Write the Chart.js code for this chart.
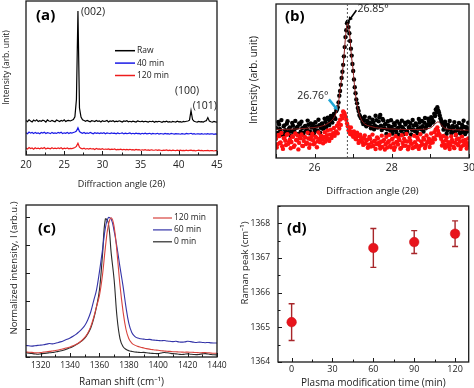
<!DOCTYPE html>
<html>
<head>
<meta charset="utf-8">
<script src="https://cdn.jsdelivr.net/npm/chart.js@4.4.1/dist/chart.umd.min.js"></script>
<style>
  html, body { margin: 0; padding: 0; background: #fff; }
  #wrap { position: relative; width: 474px; height: 388px; overflow: hidden; }
  #wrap canvas { position: absolute; left: 0; top: 0; }
</style>
</head>
<body>
<div id="wrap">
  <canvas id="chartA" width="474" height="388"></canvas>
  <canvas id="chartB" width="474" height="388"></canvas>
  <canvas id="chartC" width="474" height="388"></canvas>
  <canvas id="chartD" width="474" height="388"></canvas>
</div>
<script>
// ---------- (a) XRD survey, 20-45 deg, sampled every 0.2 deg ----------
const aLabels = ['Raw', '40 min', '120 min'];
const aStart = 20, aStep = 0.2;
const aRaw = [
  22.4, 21.6, 22.9, 22.1, 21.5, 22.7, 22.0, 22.8, 21.7, 22.3,
  21.9, 22.6, 22.2, 21.4, 22.8, 22.1, 21.8, 22.5, 22.0, 21.6,
  22.7, 22.2, 21.7, 22.4, 22.0, 22.9, 21.8, 22.3, 22.5, 22.1,
  22.6, 23.0, 24.8, 36.0, 93.5, 30.5, 24.6, 22.9, 22.4, 21.9,
  22.5, 22.0, 21.6, 22.3, 22.1, 21.7, 22.4, 21.9, 22.2, 21.5,
  22.3, 21.8, 22.0, 22.4, 21.5, 22.1, 21.9, 22.3, 21.6, 22.0,
  21.7, 22.2, 21.8, 21.4, 22.1, 21.9, 22.3, 21.6, 21.9, 21.5,
  22.0, 21.7, 21.4, 22.1, 21.8, 21.6, 22.0, 21.5, 21.9, 21.7,
  21.4, 21.9, 21.6, 22.0, 21.3, 21.8, 21.5, 21.9, 21.6, 21.2,
  21.8, 21.5, 21.9, 21.4, 21.7, 21.3, 21.8, 21.6, 21.4, 21.9,
  21.5, 21.7, 21.3, 21.8, 21.6, 21.9, 22.1, 22.6, 28.8, 23.0,
  21.9, 21.6, 21.4, 21.8, 21.5, 21.7, 21.4, 21.9, 22.3, 24.3,
  22.0, 21.6, 21.3, 21.8, 21.5, 21.4
];
const aMin40 = [
  14.5, 13.8, 14.9, 14.2, 14.6, 13.9, 14.7, 14.1, 14.4, 13.8,
  14.6, 14.2, 14.8, 14.0, 14.5, 14.3, 13.9, 14.7, 14.1, 14.4,
  14.0, 14.6, 14.2, 14.8, 13.9, 14.4, 14.1, 14.7, 14.0, 14.5,
  14.2, 14.6, 14.9, 15.6, 17.7, 15.2, 14.5, 14.1, 14.6, 13.9,
  14.4, 14.0, 14.6, 14.2, 13.8, 14.5, 14.1, 14.4, 13.9, 14.3,
  14.0, 14.5, 13.8, 14.3, 14.1, 13.9, 14.4, 14.0, 14.2, 13.8,
  14.3, 13.9, 14.1, 14.4, 13.7, 14.2, 13.9, 14.0, 14.3, 13.8,
  14.1, 13.7, 14.2, 13.9, 14.0, 13.6, 14.1, 13.8, 14.2, 13.7,
  13.9, 14.1, 13.6, 14.0, 13.8, 13.7, 14.1, 13.6, 13.9, 13.8,
  13.6, 14.0, 13.7, 13.9, 13.5, 14.0, 13.8, 13.6, 13.9, 13.7,
  13.8, 13.5, 13.9, 13.7, 13.6, 14.0, 13.7, 13.8, 14.1, 13.6,
  13.9, 13.5, 13.8, 13.7, 13.6, 13.9, 13.5, 13.8, 13.6, 13.9,
  13.5, 13.7, 13.8, 13.4, 13.7, 13.6
];
const aMin120 = [
  4.5, 3.9, 4.8, 4.2, 4.6, 3.8, 4.7, 4.1, 4.4, 4.0,
  4.6, 4.2, 4.8, 3.9, 4.5, 4.3, 4.0, 4.7, 4.1, 4.4,
  4.1, 4.6, 4.2, 4.7, 3.9, 4.4, 4.1, 4.6, 4.0, 4.3,
  4.2, 4.5, 4.9, 5.6, 7.6, 5.1, 4.3, 4.0, 4.4, 3.8,
  4.2, 3.8, 4.3, 3.9, 4.1, 3.6, 4.2, 3.8, 4.0, 3.7,
  4.1, 3.6, 3.9, 3.7, 4.0, 3.5, 3.8, 3.6, 3.9, 3.4,
  3.7, 3.5, 3.8, 3.4, 3.7, 3.3, 3.6, 3.4, 3.7, 3.3,
  3.5, 3.2, 3.6, 3.3, 3.5, 3.1, 3.4, 3.2, 3.5, 3.1,
  3.3, 3.0, 3.4, 3.2, 3.1, 3.4, 3.0, 3.3, 3.1, 2.9,
  3.2, 3.0, 3.3, 2.9, 3.1, 2.8, 3.2, 3.0, 2.9, 3.2,
  2.9, 3.1, 2.8, 3.0, 2.9, 3.2, 2.8, 3.0, 3.1, 2.8,
  3.0, 2.7, 2.9, 3.1, 2.8, 3.0, 2.7, 2.9, 2.8, 3.0,
  2.7, 2.9, 2.8, 2.6, 2.9, 2.8
];
const aTicks = [20, 25, 30, 35, 40, 45];
const aPeaks = [['(002)', 26.8, 93.5], ['(100)', 41.6, 28.8], ['(101)', 43.8, 24.3]];

// ---------- (b) zoom on (002), 25-30 deg ----------
// two interleaved scans: first starts at 25.00, second at 25.02, both every 0.04 deg
const bStart = 25, bStart2 = 25.02, bStep = 0.04;
const bRaw = [
  19.5, 16.2, 21.8, 17.4, 15.9, 20.6, 18.1, 22.3, 16.7, 19.9,
  17.2, 21.0, 18.6, 15.8, 20.3, 22.5, 17.0, 19.4, 16.5, 20.8,
  18.9, 21.6, 17.3, 19.8, 22.0, 18.2, 20.5, 17.7, 21.3, 19.6,
  22.4, 20.1, 23.5, 22.0, 25.1, 23.9, 24.8, 27.0, 26.2, 30.5,
  33.0, 40.5, 47.5, 56.0, 66.0, 78.5, 87.5, 85.0, 76.0, 66.5,
  56.5, 46.0, 38.0, 32.5, 28.0, 26.0, 23.5, 24.5, 21.8, 24.1,
  21.5, 22.8, 20.4, 23.0, 21.2, 24.6, 19.8, 26.5, 20.9, 25.3,
  19.4, 22.1, 18.6, 21.0, 17.9, 20.2, 18.0, 21.4, 16.9, 19.5,
  22.3, 17.6, 20.0, 18.4, 21.7, 17.1, 19.7, 22.6, 18.3, 20.9,
  17.5, 21.2, 19.0, 23.1, 18.7, 20.6, 22.9, 19.3, 21.8, 24.0,
  22.2, 25.4, 23.7, 27.3, 29.5, 31.0, 27.8, 24.2, 21.5, 19.6,
  21.9, 17.8, 20.3, 18.5, 16.7, 19.9, 17.2, 20.7, 18.1, 16.4,
  19.3, 17.0, 20.1, 16.8, 18.6, 17.5
];
const bRaw2 = [
  15.1, 23.4, 18.8, 24.6, 14.7, 21.2, 16.3, 23.9, 19.2, 14.4,
  22.8, 16.9, 24.1, 19.7, 15.5, 21.9, 23.6, 15.2, 20.4, 17.8,
  24.3, 16.1, 22.5, 20.8, 15.9, 23.2, 17.6, 24.8, 16.4, 22.1,
  18.9, 25.6, 19.8, 26.1, 21.4, 27.3, 23.0, 28.6, 25.4, 31.5,
  36.0, 43.5, 52.0, 60.5, 72.0, 83.0, 88.5, 81.0, 71.0, 61.0,
  51.0, 42.0, 35.5, 30.5, 27.0, 25.5, 22.0, 26.8, 20.6, 23.4,
  26.2, 19.3, 24.9, 18.7, 27.4, 20.1, 23.8, 28.0, 18.2, 24.4,
  21.7, 15.6, 23.9, 19.2, 24.5, 15.8, 22.6, 18.5, 23.7, 14.9,
  20.5, 24.2, 15.4, 22.9, 16.6, 23.5, 20.2, 15.3, 24.7, 18.0,
  22.4, 16.2, 25.3, 19.9, 24.1, 17.1, 26.0, 20.7, 25.6, 21.3,
  26.5, 23.0, 28.8, 31.5, 33.0, 29.7, 25.8, 23.1, 18.4, 23.6,
  15.7, 21.4, 24.0, 16.2, 20.8, 23.3, 15.0, 19.4, 22.7, 15.9,
  21.6, 24.2, 15.6, 20.0, 22.9
];
const bMin120 = [
  12.5, 8.9, 14.2, 10.1, 7.6, 13.0, 11.2, 15.1, 9.3, 12.0,
  10.4, 13.8, 8.2, 11.7, 14.6, 9.8, 12.9, 7.9, 11.1, 13.4,
  10.0, 12.7, 8.8, 14.0, 11.5, 9.6, 13.2, 10.8, 12.4, 14.5,
  11.9, 13.6, 10.7, 14.8, 12.3, 15.2, 13.0, 16.1, 14.4, 17.3,
  16.0, 19.2, 21.5, 25.8, 29.6, 27.0, 22.4, 18.1, 15.6, 16.9,
  13.8, 15.0, 12.2, 14.3, 11.0, 13.5, 10.2, 12.8, 9.4, 11.9,
  8.6, 12.4, 10.0, 7.8, 11.3, 9.1, 12.7, 8.3, 10.6, 7.2,
  11.8, 9.0, 6.8, 10.9, 8.1, 12.1, 9.5, 7.0, 10.4, 8.7,
  11.6, 6.5, 9.8, 12.3, 8.0, 10.7, 7.4, 11.2, 9.2, 6.9,
  10.3, 8.5, 12.0, 7.7, 10.8, 9.0, 11.9, 8.4, 10.1, 12.6,
  9.7, 11.4, 13.0, 12.2, 14.8, 17.5, 15.1, 12.4, 10.6, 8.8,
  11.5, 7.6, 10.2, 8.4, 11.7, 7.1, 9.9, 12.2, 8.2, 10.5,
  7.5, 11.0, 8.6, 10.3, 7.9, 9.6
];
const bMin120b = [
  6.8, 14.9, 9.7, 16.2, 5.9, 13.1, 8.4, 15.5, 10.6, 6.3,
  14.1, 7.2, 16.0, 11.5, 5.6, 12.8, 15.3, 7.8, 13.7, 9.1,
  16.4, 6.6, 12.1, 15.7, 8.9, 13.9, 7.0, 16.6, 10.3, 14.2,
  9.5, 16.8, 12.4, 17.9, 11.1, 18.4, 14.6, 19.5, 16.8, 20.9,
  22.8, 24.9, 27.5, 30.2, 28.6, 24.8, 20.6, 17.5, 19.8, 14.7,
  17.2, 12.5, 16.4, 9.8, 15.1, 12.0, 8.5, 14.7, 11.3, 6.7,
  13.6, 7.5, 15.2, 10.9, 5.8, 13.4, 9.8, 6.2, 14.5, 11.0,
  5.5, 13.8, 10.2, 15.0, 6.9, 12.6, 5.4, 14.2, 9.6, 12.9,
  6.0, 14.8, 7.9, 11.0, 15.6, 5.7, 13.1, 9.4, 6.4, 14.4,
  7.3, 13.5, 5.9, 15.4, 8.6, 13.0, 6.5, 14.6, 10.7, 7.1,
  15.9, 10.0, 16.8, 18.6, 19.9, 15.8, 13.9, 8.1, 14.3, 6.6,
  13.2, 9.3, 5.8, 14.0, 10.5, 6.4, 15.1, 9.0, 12.6, 5.9,
  13.9, 8.3, 11.8, 6.1, 12.7
];
const bFitX = [25.0, 25.5, 26.0, 26.2, 26.35, 26.45, 26.52, 26.58, 26.63, 26.68,
  26.72, 26.75, 26.78, 26.81, 26.85, 26.89, 26.92, 26.95, 26.99, 27.03,
  27.08, 27.15, 27.22, 27.3, 27.45, 27.7, 28.2, 28.8, 29.0, 29.1,
  29.2, 29.3, 29.4, 29.7, 30.0];
const bFitY = [18.5, 18.8, 19.8, 20.8, 22.5, 24.5, 27.0, 31.0, 38.0, 48.0,
  55.0, 63.0, 72.0, 81.0, 87.5, 84.0, 77.0, 67.0, 59.0, 48.0,
  37.5, 29.0, 24.5, 22.0, 20.5, 19.3, 18.6, 18.6, 19.5, 21.5,
  23.5, 21.0, 19.0, 18.3, 18.0];
const bTicks = [26, 28, 30];
const bRawPeak = [26.85, 87.5];
const bMin120Peak = [26.76, 29.6];

// ---------- (c) normalized Raman D band, sampled every 2 cm-1 ----------
const cLabels = ['120 min', '60 min', '0 min'];
const cStart = 1310, cStep = 2;
const cMin120 = [
  0.035, 0.034, 0.033, 0.030, 0.030, 0.032, 0.035, 0.038, 0.040, 0.043,
  0.046, 0.050, 0.055, 0.060, 0.066, 0.072, 0.080, 0.090, 0.102, 0.118,
  0.140, 0.170, 0.215, 0.280, 0.360, 0.440, 0.580, 0.780, 0.940, 0.995,
  0.930, 0.740, 0.510, 0.330, 0.200, 0.130, 0.100, 0.085, 0.076, 0.070,
  0.065, 0.060, 0.056, 0.053, 0.050, 0.048, 0.045, 0.043, 0.041, 0.040,
  0.038, 0.037, 0.036, 0.035, 0.034, 0.035, 0.034, 0.033, 0.032, 0.030,
  0.031, 0.032, 0.030, 0.028, 0.027, 0.026
];
const cMin60 = [
  0.082, 0.080, 0.078, 0.080, 0.083, 0.085, 0.088, 0.092, 0.096, 0.094,
  0.098, 0.104, 0.110, 0.118, 0.126, 0.136, 0.148, 0.162, 0.180, 0.200,
  0.225, 0.265, 0.320, 0.400, 0.480, 0.610, 0.760, 0.920, 0.995, 0.985,
  0.900, 0.780, 0.640, 0.510, 0.360, 0.240, 0.175, 0.148, 0.135, 0.130,
  0.128, 0.125, 0.126, 0.122, 0.120, 0.118, 0.116, 0.118, 0.114, 0.112,
  0.110, 0.112, 0.108, 0.106, 0.108, 0.112, 0.110, 0.106, 0.104, 0.106,
  0.104, 0.102, 0.104, 0.101, 0.100, 0.100
];
const cMin0 = [
  0.030, 0.028, 0.025, 0.022, 0.020, 0.022, 0.025, 0.028, 0.030, 0.032,
  0.036, 0.040, 0.045, 0.050, 0.058, 0.066, 0.075, 0.088, 0.100, 0.115,
  0.135, 0.165, 0.205, 0.270, 0.360, 0.480, 0.720, 0.985, 0.960, 0.740,
  0.550, 0.280, 0.130, 0.075, 0.055, 0.045, 0.040, 0.036, 0.034, 0.032,
  0.033, 0.030, 0.028, 0.026, 0.025, 0.024, 0.028, 0.032, 0.030, 0.027,
  0.024, 0.022, 0.020, 0.018, 0.020, 0.022, 0.020, 0.018, 0.017, 0.019,
  0.022, 0.024, 0.021, 0.018, 0.016, 0.015
];
const cTicks = [1320, 1340, 1360, 1380, 1400, 1420, 1440];
const cYTicks = [0, 0.2, 0.4, 0.6, 0.8, 1.0];

// ---------- (d) Raman peak position vs plasma time ----------
const dTime = [0, 60, 90, 120];
const dPeak = [1365.15, 1367.29, 1367.46, 1367.70];
const dErr = [0.53, 0.56, 0.33, 0.37];
const dXTicks = [0, 30, 60, 90, 120];
const dYTicks = [1364, 1365, 1366, 1367, 1368];

// ---------- helpers ----------
const FONT = '"Open Sans", "Noto Sans", sans-serif';
Chart.defaults.font.family = FONT;
Chart.defaults.color = '#222';

function series(start, step, values) {
  return values.map((v, i) => ({ x: +(start + i * step).toFixed(3), y: v }));
}
function fixX(h) {
  return s => { s.height = h; s.paddingLeft = 0; s.paddingRight = 0; };
}
function fixY(w) {
  return s => { s.width = w; s.paddingTop = 0; s.paddingBottom = 0; };
}
function setTicks(list) {
  return s => { s.ticks = list.map(v => ({ value: v })); };
}
const plain = v => String(v);   // no thousands separator
function text(ctx, str, x, y, size, opts = {}) {
  ctx.save();
  ctx.font = (opts.bold ? 'bold ' : '') + size + 'px ' + FONT;
  ctx.fillStyle = opts.color || '#222';
  ctx.textAlign = opts.align || 'left';
  ctx.textBaseline = 'middle';
  ctx.translate(x, y);
  if (opts.rotate) ctx.rotate(opts.rotate);
  ctx.fillText(str, 0, 0);
  ctx.restore();
}
function arrow(ctx, x1, y1, x2, y2, color, width, head) {
  const ang = Math.atan2(y2 - y1, x2 - x1);
  ctx.save();
  ctx.strokeStyle = color; ctx.fillStyle = color; ctx.lineWidth = width;
  ctx.beginPath();
  ctx.moveTo(x1, y1);
  ctx.lineTo(x2 - Math.cos(ang) * head * 0.7, y2 - Math.sin(ang) * head * 0.7);
  ctx.stroke();
  ctx.beginPath();
  ctx.moveTo(x2, y2);
  ctx.lineTo(x2 - head * Math.cos(ang - 0.5), y2 - head * Math.sin(ang - 0.5));
  ctx.lineTo(x2 - head * Math.cos(ang + 0.5), y2 - head * Math.sin(ang + 0.5));
  ctx.closePath();
  ctx.fill();
  ctx.restore();
}

// box around the plot plus inward tick marks
const frameTicks = {
  id: 'frameTicks',
  afterDatasetsDraw(chart, args, opts) {
    const { ctx, chartArea: a, scales } = chart;
    ctx.save();
    ctx.strokeStyle = '#1a1a1a';
    ctx.lineWidth = 1;
    const mark = (s, v, len) => {
      const p = Math.round(s.getPixelForValue(v)) + 0.5;
      ctx.beginPath();
      if (s.isHorizontal()) { ctx.moveTo(p, a.bottom); ctx.lineTo(p, a.bottom - len); }
      else { ctx.moveTo(a.left, p); ctx.lineTo(a.left + len, p); }
      ctx.stroke();
    };
    ['x', 'y'].forEach(id => {
      const o = opts[id];
      if (!o) return;
      const s = scales[id];
      if (o.minor) {
        for (let v = Math.ceil(s.min / o.minor) * o.minor; v <= s.max + 1e-9; v += o.minor) mark(s, v, o.minorLen || 2.5);
      }
      s.ticks.forEach(t => mark(s, t.value, o.major || 4));
    });
    ctx.lineWidth = 1.3;
    ctx.strokeRect(a.left, a.top, a.right - a.left, a.bottom - a.top);
    ctx.restore();
  }
};
Chart.register(frameTicks);

const baseOpts = {
  responsive: false,
  animation: false,
  events: []
};

// ---------- (a) ----------
const aColors = ['#000000', '#1a1ae6', '#ee1c1c'];
new Chart(document.getElementById('chartA'), {
  type: 'line',
  data: {
    datasets: [aRaw, aMin40, aMin120].map((vals, i) => ({
      label: aLabels[i],
      data: series(aStart, aStep, vals),
      borderColor: aColors[i],
      borderWidth: 1.2,
      pointRadius: 0,
      tension: 0
    }))
  },
  options: {
    ...baseOpts,
    layout: { padding: { left: 0, top: 1, right: 257, bottom: 193 } },
    plugins: {
      legend: { display: false }, tooltip: { enabled: false },
      frameTicks: { x: { major: 4, minor: 2.5, minorLen: 2.5 } }
    },
    scales: {
      x: {
        type: 'linear', min: 20, max: 45,
        afterBuildTicks: setTicks(aTicks), afterFit: fixX(40),
        grid: { display: false, drawTicks: false }, border: { display: false },
        ticks: { padding: 4, font: { size: 10 }, callback: plain },
        title: { display: true, text: 'Diffraction angle (2θ)', font: { size: 9 }, padding: { top: 0, bottom: 4.9 } }
      },
      y: {
        min: 0, max: 100, afterFit: fixY(26),
        grid: { display: false, drawTicks: false }, border: { display: false },
        ticks: { display: false }
      }
    }
  },
  plugins: [{
    id: 'aDecor',
    afterDraw(chart) {
      const { ctx, chartArea: a, scales: { x, y } } = chart;
      text(ctx, 'Intensity (arb. unit)', 6.5, 67.5, 8.5, { align: 'center', rotate: -Math.PI / 2 });
      text(ctx, '(a)', a.left + 10, a.top + 15, 15, { bold: true, color: '#000' });
      const off = [[3, 1, 'left'], [-4, -20, 'center'], [-3, -12, 'center']];
      aPeaks.forEach((p, i) => {
        text(ctx, p[0], x.getPixelForValue(p[1]) + off[i][0], y.getPixelForValue(p[2]) + off[i][1], 10.5, { align: off[i][2] });
      });
      chart.data.datasets.forEach((ds, i) => {
        const ly = a.top + 49.7 + i * 12.4;
        ctx.save();
        ctx.strokeStyle = ds.borderColor; ctx.lineWidth = 1.5;
        ctx.beginPath(); ctx.moveTo(a.left + 89, ly); ctx.lineTo(a.left + 109, ly); ctx.stroke();
        ctx.restore();
        text(ctx, ds.label, a.left + 111, ly, 8.5);
      });
    }
  }]
});

// ---------- (b) ----------
const dot = (vals, start, color) => ({
  data: series(start, bStep, vals), backgroundColor: color, borderWidth: 0, pointRadius: 2.2
});
new Chart(document.getElementById('chartB'), {
  type: 'scatter',
  data: {
    datasets: [
      { label: 'fit', type: 'line', data: bFitX.map((v, i) => ({ x: v, y: bFitY[i] })), borderColor: '#8b1a1a', borderWidth: 1, pointRadius: 0, tension: 0.35 },
      { label: '120 min', ...dot(bMin120, bStart, '#ff1010') },
      { label: '120 min', ...dot(bMin120b, bStart2, '#ff1010') },
      { label: 'Raw', ...dot(bRaw, bStart, '#000000') },
      { label: 'Raw', ...dot(bRaw2, bStart2, '#000000') }
    ]
  },
  options: {
    ...baseOpts,
    layout: { padding: { left: 236, top: 3, right: 5, bottom: 190 } },
    plugins: {
      legend: { display: false }, tooltip: { enabled: false },
      frameTicks: { x: { major: 4, minor: 1, minorLen: 4 } }
    },
    scales: {
      x: {
        type: 'linear', min: 25, max: 30,
        afterBuildTicks: setTicks(bTicks), afterFit: fixX(40),
        grid: { display: false, drawTicks: false }, border: { display: false },
        ticks: { padding: 4, font: { size: 10.5 }, callback: plain },
        title: { display: true, text: 'Diffraction angle (2θ)', font: { size: 9.5 }, padding: { top: 0, bottom: 1.5 } }
      },
      y: {
        min: 0, max: 100, afterFit: fixY(40),
        grid: { display: false, drawTicks: false }, border: { display: false },
        ticks: { display: false }
      }
    }
  },
  plugins: [{
    id: 'bDecor',
    afterDraw(chart) {
      const { ctx, chartArea: a, scales: { x, y } } = chart;
      text(ctx, 'Intensity (arb. unit)', 254.5, 80, 10, { align: 'center', rotate: -Math.PI / 2 });
      text(ctx, '(b)', a.left + 9, a.top + 13, 15, { bold: true, color: '#000' });
      // dashed guide through the raw peak
      const gx = x.getPixelForValue(bRawPeak[0]);
      ctx.save();
      ctx.strokeStyle = '#555'; ctx.lineWidth = 1; ctx.setLineDash([2, 2]);
      ctx.beginPath(); ctx.moveTo(gx, a.top); ctx.lineTo(gx, a.bottom); ctx.stroke();
      ctx.restore();
      const px = gx, py = y.getPixelForValue(bRawPeak[1]);
      arrow(ctx, px + 9, py - 13, px + 1, py - 2, '#000', 1.6, 5);
      text(ctx, bRawPeak[0].toFixed(2) + '°', px + 10, py - 14, 10.5);
      const rx = x.getPixelForValue(bMin120Peak[0]), ry = y.getPixelForValue(bMin120Peak[1]);
      arrow(ctx, rx - 15, ry - 13, rx - 6, ry - 2, '#1fa6d6', 2.5, 5);
      text(ctx, bMin120Peak[0].toFixed(2) + '°', rx - 31, ry - 16.4, 10.5, { align: 'center' });
    }
  }]
});

// ---------- (c) ----------
const cColors = ['#d8443e', '#3434a8', '#2a2a2a'];
new Chart(document.getElementById('chartC'), {
  type: 'line',
  data: {
    datasets: [cMin120, cMin60, cMin0].map((vals, i) => ({
      label: cLabels[i],
      data: series(cStart, cStep, vals),
      borderColor: cColors[i],
      borderWidth: 1.1,
      pointRadius: 0,
      tension: 0.4
    }))
  },
  options: {
    ...baseOpts,
    layout: { padding: { left: 0, top: 205, right: 257, bottom: 0 } },
    plugins: {
      legend: { display: false }, tooltip: { enabled: false },
      frameTicks: { x: { major: 4, minor: 10, minorLen: 2.5 }, y: { major: 4 } }
    },
    scales: {
      x: {
        type: 'linear', min: 1310, max: 1440,
        afterBuildTicks: setTicks(cTicks), afterFit: fixX(31),
        grid: { display: false, drawTicks: false }, border: { display: false },
        ticks: { padding: 3.2, font: { size: 8.5 }, callback: plain },
        title: { display: true, text: 'Raman shift (cm⁻¹)', font: { size: 10 }, padding: { top: 0, bottom: 0.3 } }
      },
      y: {
        min: 0, max: 1.086, afterBuildTicks: setTicks(cYTicks), afterFit: fixY(26),
        grid: { display: false, drawTicks: false }, border: { display: false },
        ticks: { display: false }
      }
    }
  },
  plugins: [{
    id: 'cDecor',
    afterDraw(chart) {
      const { ctx, chartArea: a } = chart;
      text(ctx, 'Normalized intensity, I (arb.u.)', 14, 268, 9.5, { align: 'center', rotate: -Math.PI / 2 });
      text(ctx, '(c)', a.left + 12, a.top + 24, 15, { bold: true, color: '#000' });
      chart.data.datasets.forEach((ds, i) => {
        const ly = a.top + 13 + i * 11.9;
        ctx.save();
        ctx.strokeStyle = ds.borderColor; ctx.lineWidth = 1.2;
        ctx.beginPath(); ctx.moveTo(a.left + 127, ly); ctx.lineTo(a.left + 146, ly); ctx.stroke();
        ctx.restore();
        text(ctx, ds.label, a.left + 148, ly, 8.5);
      });
    }
  }]
});

// ---------- (d) ----------
new Chart(document.getElementById('chartD'), {
  type: 'scatter',
  data: {
    datasets: [{
      label: 'Raman peak',
      data: dTime.map((t, i) => ({ x: t, y: dPeak[i] })),
      backgroundColor: '#e8141c', borderColor: '#c81018', borderWidth: 0.5,
      pointRadius: 4.8
    }]
  },
  options: {
    ...baseOpts,
    layout: { padding: { left: 237, top: 206, right: 3, bottom: 0 } },
    plugins: {
      legend: { display: false }, tooltip: { enabled: false },
      frameTicks: { x: { major: 4, minor: 15, minorLen: 2.5 }, y: { major: 4, minor: 0.5, minorLen: 2.5 } }
    },
    scales: {
      x: {
        type: 'linear', min: -10, max: 130,
        afterBuildTicks: setTicks(dXTicks), afterFit: fixX(26),
        grid: { display: false, drawTicks: false }, border: { display: false },
        ticks: { padding: 2.3, font: { size: 9 }, callback: plain },
        title: { display: true, text: 'Plasma modification time (min)', font: { size: 10 }, padding: { top: 0, bottom: -1.3 } }
      },
      y: {
        min: 1364, max: 1368.5, afterBuildTicks: setTicks(dYTicks), afterFit: fixY(41),
        grid: { display: false, drawTicks: false }, border: { display: false },
        ticks: { padding: 8, font: { size: 8.5 }, callback: plain }
      }
    }
  },
  plugins: [{
    id: 'dErrorBars',
    beforeDatasetsDraw(chart) {
      const { ctx, scales: { x, y } } = chart;
      ctx.save();
      ctx.strokeStyle = '#a8262a'; ctx.lineWidth = 1.4;
      dTime.forEach((t, i) => {
        const px = x.getPixelForValue(t);
        const top = y.getPixelForValue(dPeak[i] + dErr[i]);
        const bot = y.getPixelForValue(dPeak[i] - dErr[i]);
        ctx.beginPath();
        ctx.moveTo(px, top); ctx.lineTo(px, bot);
        ctx.moveTo(px - 3, top); ctx.lineTo(px + 3, top);
        ctx.moveTo(px - 3, bot); ctx.lineTo(px + 3, bot);
        ctx.stroke();
      });
      ctx.restore();
    },
    afterDraw(chart) {
      const { ctx, chartArea: a } = chart;
      text(ctx, 'Raman peak (cm⁻¹)', 245, 263, 9.5, { align: 'center', rotate: -Math.PI / 2 });
      text(ctx, '(d)', a.left + 9, a.top + 23, 15, { bold: true, color: '#000' });
    }
  }]
});
</script>
</body>
</html>
